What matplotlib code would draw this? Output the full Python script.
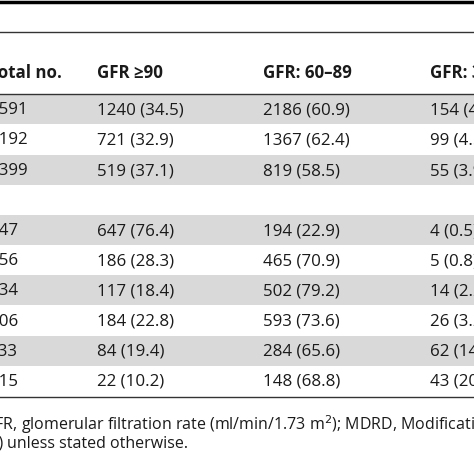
import matplotlib
matplotlib.use("Agg")
import matplotlib.pyplot as plt

headers = ["Total no.", "GFR \u226590", "GFR: 60\u201389", "GFR: 30\u201359"]
total = ["3591", "2192", "1399", "", "847", "656", "634", "806", "433", "215"]
gfr90 = ["1240 (34.5)", "721 (32.9)", "519 (37.1)", "", "647 (76.4)", "186 (28.3)", "117 (18.4)", "184 (22.8)", "84 (19.4)", "22 (10.2)"]
gfr60 = ["2186 (60.9)", "1367 (62.4)", "819 (58.5)", "", "194 (22.9)", "465 (70.9)", "502 (79.2)", "593 (73.6)", "284 (65.6)", "148 (68.8)"]
gfr30 = ["154 (4.3)", "99 (4.5)", "55 (3.9)", "", "4 (0.5)", "5 (0.8)", "14 (2.2)", "26 (3.2)", "62 (14.3)", "43 (20.0)"]
shaded = [True, False, True, False, True, False, True, False, True, False]

plt.rcParams['font.family'] = ['Open Sans', 'DejaVu Sans']
fig = plt.figure(figsize=(4.74, 4.74), dpi=100)
ax = fig.add_axes([0, 0, 1, 1])
ax.set_xlim(0, 474)
ax.set_ylim(474, 0)
ax.axis('off')

fs = 12.2
cols_x = [-11, 97, 263, 430]
row_tops = [94, 124, 155, 185, 215, 245, 275, 305, 336, 366]
row_h = [30, 31, 30, 30, 30, 30, 30, 31, 30, 30]

for i in range(len(total)):
    if shaded[i]:
        ax.axhspan(row_tops[i], row_tops[i] + row_h[i], color='#d9d9d9', lw=0)
    yc = row_tops[i] + row_h[i] / 2 + 1
    for x, col in zip(cols_x, [total, gfr90, gfr60, gfr30]):
        ax.text(x, yc, col[i], fontsize=fs, va='center', ha='left', color='#1a1a1a')

for x, h in zip(cols_x, headers):
    ax.text(x, 73, h, fontsize=fs, fontweight='bold', va='center', ha='left', color='#1a1a1a')

ax.axhline(1.5, color='black', lw=2.5)
ax.axhline(32, color='#333333', lw=1.0)
ax.axhline(94, color='#333333', lw=1.0)
ax.axhline(397, color='#333333', lw=1.0)

ax.text(-17, 425, "GFR, glomerular filtration rate (ml/min/1.73 m$^2$); MDRD, Modification of Diet in Renal Disease.",
        fontsize=11.5, va='center', ha='left', color='#1a1a1a')
ax.text(3, 444, "Data are n (%)", fontsize=11.5, va='center', ha='right', color='#1a1a1a')
ax.text(7, 444, "unless stated otherwise.", fontsize=11.5, va='center', ha='left', color='#1a1a1a')

fig.savefig("out.png", dpi=100)
